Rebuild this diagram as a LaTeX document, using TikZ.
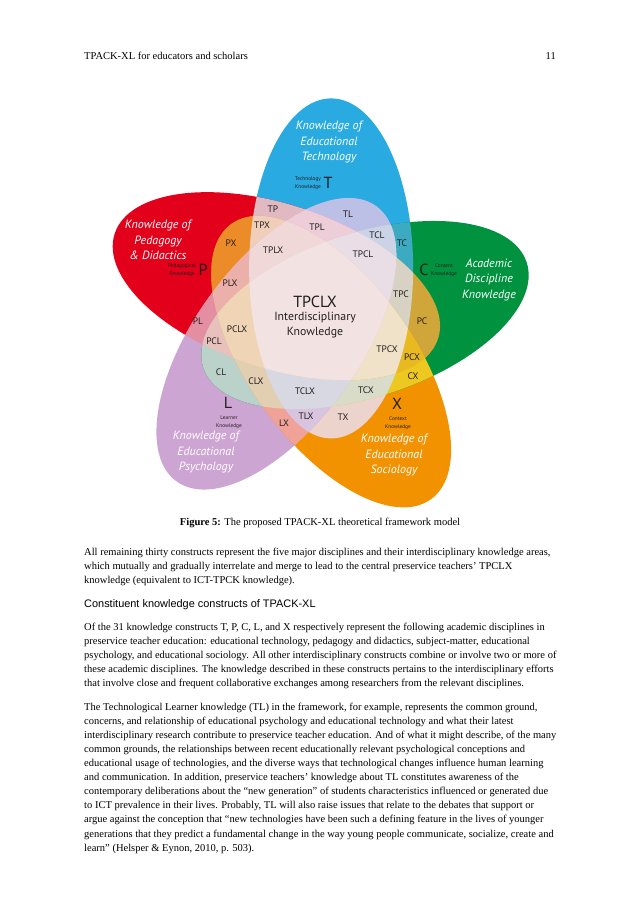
\documentclass[tikz,border=0pt]{standalone}
\usepackage{fontspec}
\setmainfont{Liberation Serif}
\setsansfont{PT Sans}
\newfontfamily\headfont{Liberation Sans}
\usepackage{tikz}
\usetikzlibrary{positioning}

% petal colours
\definecolor{techBlue}{RGB}{41,170,225}
\definecolor{pedRed}{RGB}{226,0,26}
\definecolor{acadGreen}{RGB}{0,146,63}
\definecolor{learnLilac}{RGB}{205,165,210}
\definecolor{socOrange}{RGB}{243,146,0}
\definecolor{labelInk}{RGB}{35,31,32}
% overlap colours
\definecolor{cTP}{RGB}{225,185,195}
\definecolor{cTC}{RGB}{60,170,192}
\definecolor{cTL}{RGB}{188,192,230}
\definecolor{cTX}{RGB}{236,212,204}
\definecolor{cPC}{RGB}{208,166,58}
\definecolor{cPL}{RGB}{228,142,162}
\definecolor{cPX}{RGB}{236,140,40}
\definecolor{cCL}{RGB}{186,210,202}
\definecolor{cCX}{RGB}{236,200,32}
\definecolor{cLX}{RGB}{240,162,152}
\definecolor{cTPC}{RGB}{216,210,196}
\definecolor{cTPL}{RGB}{236,205,216}
\definecolor{cTPX}{RGB}{240,206,186}
\definecolor{cTCL}{RGB}{202,212,230}
\definecolor{cTCX}{RGB}{216,220,200}
\definecolor{cTLX}{RGB}{216,196,222}
\definecolor{cPCL}{RGB}{232,192,188}
\definecolor{cPCX}{RGB}{232,186,32}
\definecolor{cPLX}{RGB}{236,176,170}
\definecolor{cCLX}{RGB}{226,206,176}
\definecolor{cTPCL}{RGB}{233,222,230}
\definecolor{cTPCX}{RGB}{240,226,200}
\definecolor{cTPLX}{RGB}{240,216,216}
\definecolor{cTCLX}{RGB}{216,216,226}
\definecolor{cPCLX}{RGB}{240,212,182}
\definecolor{cTPCLX}{RGB}{242,226,226}

% one petal: ellipse turned about the flower centre
\newcommand\petal[2]{\fill[#2, shift={(316,315)}, rotate=#1, rotate around={18:(49,0)}] (49,0) ellipse (170 and 82);}
\newcommand\petalclip[1]{\clip[shift={(316,315)}, rotate=#1, rotate around={18:(49,0)}] (49,0) ellipse (170 and 82);}
\newcommand\clipT{\petalclip{72}}
\newcommand\clipP{\petalclip{144}}
\newcommand\clipL{\petalclip{216}}
\newcommand\clipX{\petalclip{288}}
\newcommand\clipC{\petalclip{0}}
\newcommand\lens[2]{\begin{scope}#1\fill[#2] (90,80) rectangle (550,520);\end{scope}}

\begin{document}
\begin{tikzpicture}[
  x=0.9326pt, y=-0.9326pt,
  region/.style={font=\sffamily\fontsize{8.8}{8.8}\selectfont, text=labelInk, inner sep=0pt},
  core/.style={font=\sffamily\fontsize{15}{15}\selectfont, text=labelInk, inner sep=0pt},
  coresub/.style={font=\sffamily\fontsize{11}{14}\selectfont, text=labelInk, align=center, inner sep=0pt},
  letter/.style={font=\sffamily\fontsize{15}{15}\selectfont, text=labelInk, inner sep=0pt},
  tinylab/.style={font=\sffamily\fontsize{5}{8}\selectfont, text=labelInk, align=center, inner sep=0pt},
  discname/.style={font=\sffamily\itshape\fontsize{11.2}{14.3}\selectfont, text=white, align=center, inner sep=0pt},
  body/.style={font=\fontsize{9.8}{13.1}\selectfont, align=left, anchor=north west, inner sep=0pt}
]
\useasboundingbox (0,0) rectangle (638,902);

% ================= Header =================
\node[body] (header) at (84,52) {TPACK-XL for educators and scholars};
\node[body, anchor=north east] (pageno) at (556,52) {11};

% ================= Petals =================
\petal{72}{techBlue}
\petal{144}{pedRed}
\petal{216}{learnLilac}
\petal{288}{socOrange}
\petal{0}{acadGreen}

% two disciplines
\lens{\clipT\clipP}{cTP}
\lens{\clipT\clipC}{cTC}
\lens{\clipT\clipL}{cTL}
\lens{\clipT\clipX}{cTX}
\lens{\clipP\clipC}{cPC}
\lens{\clipP\clipL}{cPL}
\lens{\clipP\clipX}{cPX}
\lens{\clipC\clipL}{cCL}
\lens{\clipC\clipX}{cCX}
\lens{\clipL\clipX}{cLX}
% three disciplines
\lens{\clipT\clipP\clipC}{cTPC}
\lens{\clipT\clipP\clipL}{cTPL}
\lens{\clipT\clipP\clipX}{cTPX}
\lens{\clipT\clipC\clipL}{cTCL}
\lens{\clipT\clipC\clipX}{cTCX}
\lens{\clipT\clipL\clipX}{cTLX}
\lens{\clipP\clipC\clipL}{cPCL}
\lens{\clipP\clipC\clipX}{cPCX}
\lens{\clipP\clipL\clipX}{cPLX}
\lens{\clipC\clipL\clipX}{cCLX}
% four and five
\lens{\clipT\clipP\clipC\clipL}{cTPCL}
\lens{\clipT\clipP\clipC\clipX}{cTPCX}
\lens{\clipT\clipP\clipL\clipX}{cTPLX}
\lens{\clipT\clipC\clipL\clipX}{cTCLX}
\lens{\clipP\clipC\clipL\clipX}{cPCLX}
\lens{\clipT\clipP\clipC\clipL\clipX}{cTPCLX}

% ================= Discipline names =================
\node[discname] (nameT) at (329,142) {Knowledge of\\Educational\\Technology};
\node[discname] (nameP) at (158,240) {Knowledge of\\Pedagogy\\\& Didactics};
\node[discname] (nameC) at (489,280) {Academic\\Discipline\\Knowledge};
\node[discname] (nameL) at (206,452) {Knowledge of\\Educational\\Psychology};
\node[discname] (nameX) at (394,455) {Knowledge of\\Educational\\Sociology};

% ================= Single constructs =================
\node[letter] (T) at (328,183) {T};
\node[letter] (P) at (203,270) {P};
\node[letter] (C) at (424,270) {C};
\node[letter] (L) at (228,403) {L};
\node[letter] (X) at (397,404) {X};
\node[tinylab, left=2pt of T] {Technology\\Knowledge};
\node[tinylab, left=2pt of P] {Pedagogical\\Knowledge};
\node[tinylab, right=2pt of C] {Content\\Knowledge};
\node[tinylab] (learner) at (229,422) {Learner\\Knowledge};
\node[tinylab] (context) at (398,423) {Context\\Knowledge};

% ================= Overlaps =================
\node[region] (tp) at (273,209) {TP};
\node[region] (tpx) at (262,225) {TPX};
\node[region] (tpl) at (317,227) {TPL};
\node[region] (tl) at (348,214) {TL};
\node[region] (tcl) at (377,235) {TCL};
\node[region] (tc) at (402,243) {TC};
\node[region] (px) at (231,243) {PX};
\node[region] (tplx) at (273,250) {TPLX};
\node[region] (tpcl) at (363,254) {TPCL};
\node[region] (plx) at (230,283) {PLX};
\node[region] (tpc) at (401,294) {TPC};
\node[region] (pl) at (198,321) {PL};
\node[region] (pclx) at (237,329) {PCLX};
\node[region] (pc) at (422,321) {PC};
\node[region] (pcl) at (214,341) {PCL};
\node[region] (tpcx) at (387,349) {TPCX};
\node[region] (pcx) at (412,357) {PCX};
\node[region] (cl) at (221,372) {CL};
\node[region] (cx) at (413,376) {CX};
\node[region] (clx) at (256,381) {CLX};
\node[region] (tclx) at (305,391) {TCLX};
\node[region] (tcx) at (366,390) {TCX};
\node[region] (tlx) at (306,416) {TLX};
\node[region] (tx) at (343,417) {TX};
\node[region] (lx) at (284,423) {LX};

\node[core] (tpclx) at (315,302) {TPCLX};
\node[coresub] (inter) at (315,325) {Interdisciplinary\\Knowledge};

% ================= Caption and text =================
\node[body, anchor=north] (caption) at (320,518) {\textbf{Figure 5:} The proposed TPACK-XL theoretical framework model};

\node[body] (para1) at (84,548) {All remaining thirty constructs represent the five major disciplines and their interdisciplinary knowledge areas,\\
which mutually and gradually interrelate and merge to lead to the central preservice teachers’ TPCLX\\
knowledge (equivalent to ICT-TPCK knowledge).};

\node[body, font=\headfont\fontsize{10.2}{12}\selectfont] (heading) at (84,599) {Constituent knowledge constructs of TPACK-XL};

\node[body] (para2) at (84,623) {Of the 31 knowledge constructs T, P, C, L, and X respectively represent the following academic disciplines in\\
preservice teacher education: educational technology, pedagogy and didactics, subject-matter, educational\\
psychology, and educational sociology. All other interdisciplinary constructs combine or involve two or more of\\
these academic disciplines. The knowledge described in these constructs pertains to the interdisciplinary efforts\\
that involve close and frequent collaborative exchanges among researchers from the relevant disciplines.};

\node[body] (para3) at (84,703) {The Technological Learner knowledge (TL) in the framework, for example, represents the common ground,\\
concerns, and relationship of educational psychology and educational technology and what their latest\\
interdisciplinary research contribute to preservice teacher education. And of what it might describe, of the many\\
common grounds, the relationships between recent educationally relevant psychological conceptions and\\
educational usage of technologies, and the diverse ways that technological changes influence human learning\\
and communication. In addition, preservice teachers’ knowledge about TL constitutes awareness of the\\
contemporary deliberations about the “new generation” of students characteristics influenced or generated due\\
to ICT prevalence in their lives. Probably, TL will also raise issues that relate to the debates that support or\\
argue against the conception that “new technologies have been such a defining feature in the lives of younger\\
generations that they predict a fundamental change in the way young people communicate, socialize, create and\\
learn” (Helsper \& Eynon, 2010, p. 503).};

\end{tikzpicture}
\end{document}
